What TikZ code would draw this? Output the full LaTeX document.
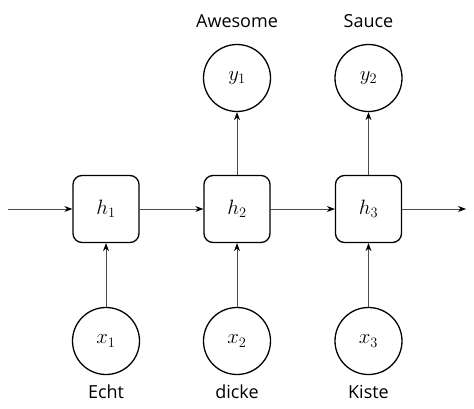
\documentclass[tikz,border=0pt]{standalone}
\usepackage{fontspec}
\setmainfont{Open Sans}
\usetikzlibrary{arrows.meta}
\begin{document}
\begin{tikzpicture}[x=1pt,y=-1pt,
  hbox/.style={draw=black,line width=1.3pt,rounded corners=9pt,minimum width=66pt,minimum height=67pt,inner sep=0pt,font=\fontsize{21}{24}\selectfont},
  cell/.style={draw=black,line width=1.3pt,circle,minimum size=67pt,inner sep=0pt,font=\fontsize{21}{24}\selectfont},
  word/.style={font=\fontsize{18}{21}\selectfont,inner sep=0pt},
  conn/.style={draw=black!70,line width=0.9pt,-{Stealth[length=8pt,width=6pt,black]}}]
\useasboundingbox (0,0) rectangle (474,409);
\node[hbox] (h1) at (106,209) {$h_1$};
\node[hbox] (h2) at (237,209) {$h_2$};
\node[hbox] (h3) at (368.5,209) {$h_3$};
\node[cell] (x1) at (106,341) {$x_1$};
\node[cell] (x2) at (237,341) {$x_2$};
\node[cell] (x3) at (368.5,341) {$x_3$};
\node[cell] (y1) at (237,78) {$y_1$};
\node[cell] (y2) at (368.5,78) {$y_2$};
\node[word] (w1) at (106,392) {Echt};
\node[word] (w2) at (237,392) {dicke};
\node[word] (w3) at (368.5,392) {Kiste};
\node[word] (o1) at (237,21) {Awesome};
\node[word] (o2) at (368.5,21) {Sauce};
\coordinate (in) at (8,209);
\coordinate (out) at (466,209);
\draw[conn] (in) -- (h1);
\draw[conn] (h1) -- (h2);
\draw[conn] (h2) -- (h3);
\draw[conn] (h3) -- (out);
\draw[conn] (x1) -- (h1);
\draw[conn] (x2) -- (h2);
\draw[conn] (x3) -- (h3);
\draw[conn] (h2) -- (y1);
\draw[conn] (h3) -- (y2);
\end{tikzpicture}
\end{document}
